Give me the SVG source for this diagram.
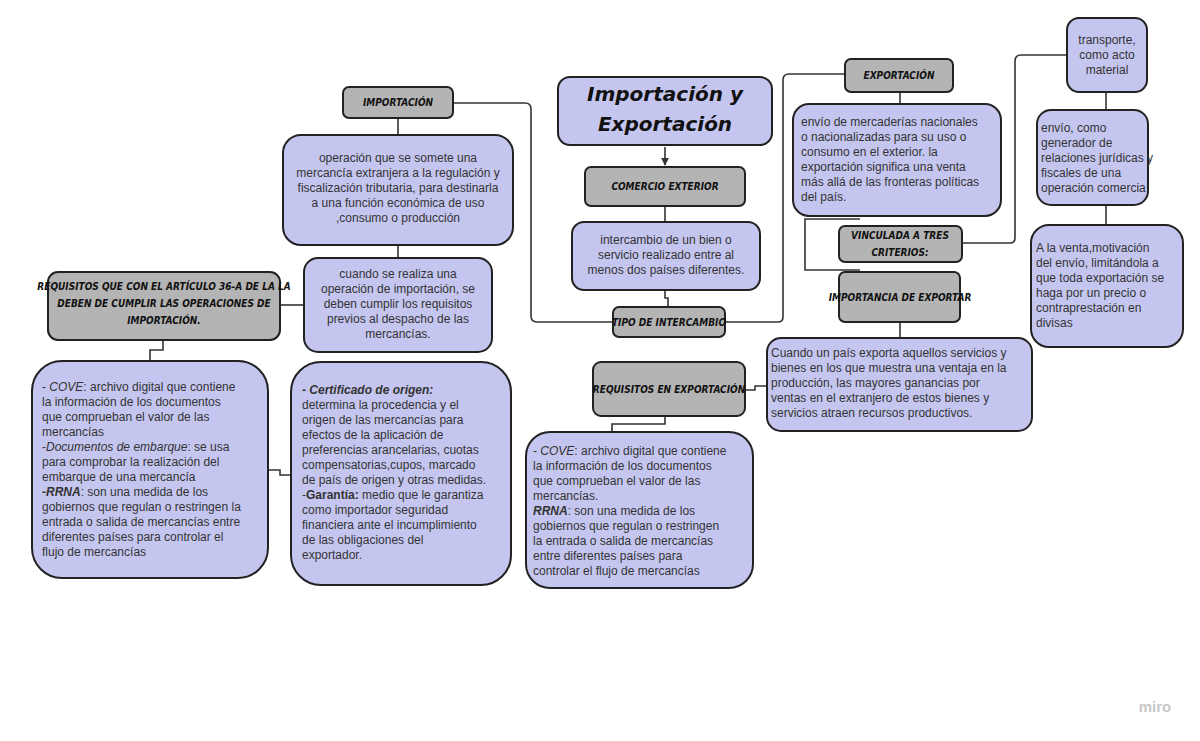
<svg xmlns="http://www.w3.org/2000/svg" width="1200" height="741" viewBox="0 0 1200 741">
<style>
.b{fill:#c5c6f0;stroke:#222;stroke-width:2}
.g{fill:#b4b4b4;stroke:#222;stroke-width:2}
.h{font-family:"Liberation Sans Narrow","DejaVu Sans Condensed","Liberation Sans",sans-serif;font-weight:bold;font-style:italic;font-size:10px;fill:#111;text-anchor:middle}
.t{font-family:"Liberation Sans",Arial,sans-serif;font-size:12px;fill:#333}
.c{text-anchor:middle}
.l{fill:none;stroke:#333;stroke-width:1.6}
</style>
<defs><marker id="a" viewBox="0 0 10 10" refX="9" refY="5" markerWidth="5" markerHeight="5" orient="auto"><path d="M0,0L10,5L0,10z" fill="#333"/></marker></defs>
<rect width="1200" height="741" fill="#fff"/>
<g id="connectors">
<path class="l" d="M665,147V165" marker-end="url(#a)"/>
<path class="l" d="M665,206V222"/>
<path class="l" d="M665,290V298H668V308"/>
<path class="l" d="M613,322H537Q531,322 531,316V109Q531,103 525,103H453"/>
<path class="l" d="M725,322H778Q783,322 783,317V80Q783,74 789,74H845"/>
<path class="l" d="M398,118V135"/>
<path class="l" d="M398,245V258"/>
<path class="l" d="M280,305H304"/>
<path class="l" d="M163,340V350H150V361"/>
<path class="l" d="M268,470H280V475H291"/>
<path class="l" d="M900,92V104"/>
<path class="l" d="M860,219H805V270H860"/>
<path class="l" d="M962,243H1010Q1015,243 1015,238V61Q1015,55 1021,55H1067"/>
<path class="l" d="M1106,92V110"/>
<path class="l" d="M1106,205V225"/>
<path class="l" d="M900,322V338"/>
<path class="l" d="M745,390H755V386H767"/>
<path class="l" d="M665,416V424H612V432"/>
</g>
<g id="title"><rect class="b" x="558" y="77" width="214" height="68" rx="12"/>
<text x="665" y="101" class="h" style="font-family:'DejaVu Sans','Liberation Sans',sans-serif;font-size:20px">Importación y</text>
<text x="665" y="131" class="h" style="font-family:'DejaVu Sans','Liberation Sans',sans-serif;font-size:20px">Exportación</text></g>
<g id="comercio"><rect class="g" x="585" y="167" width="160" height="39" rx="6"/><text x="665" y="190" class="h">COMERCIO EXTERIOR</text></g>
<g id="intercambio"><rect class="b" x="572" y="222" width="188" height="68" rx="12"/>
<text class="t c" x="666" y="244">intercambio de un bien o</text><text class="t c" x="666" y="259">servicio realizado entre al</text><text class="t c" x="666" y="274">menos dos países diferentes.</text></g>
<g id="tipo"><rect class="g" x="613" y="307" width="112" height="30" rx="6"/><text x="669" y="326" class="h">TIPO DE INTERCAMBIO</text></g>
<g id="importacion"><rect class="g" x="343" y="87" width="110" height="31" rx="6"/><text x="398" y="106" class="h">IMPORTACIÓN</text></g>
<g id="operacion"><rect class="b" x="283" y="135" width="230" height="110" rx="18"/>
<text class="t c" x="398" y="162">operación que se somete una</text><text class="t c" x="398" y="177">mercancía extranjera a la regulación y</text><text class="t c" x="398" y="192">fiscalización tributaria, para destinarla</text><text class="t c" x="398" y="207">a una función económica de uso</text><text class="t c" x="398" y="222">,consumo o producción</text></g>
<g id="cuando"><rect class="b" x="304" y="258" width="188" height="94" rx="14"/>
<text class="t c" x="398" y="278">cuando se realiza una</text><text class="t c" x="398" y="293">operación de importación, se</text><text class="t c" x="398" y="308">deben cumplir los requisitos</text><text class="t c" x="398" y="323">previos al despacho de las</text><text class="t c" x="398" y="338">mercancías.</text></g>
<g id="requisitos-imp"><rect class="g" x="48" y="272" width="232" height="68" rx="10"/>
<text x="164" y="290" class="h">REQUISITOS QUE CON EL ARTÍCULO 36-A DE LA LA</text><text x="164" y="307" class="h">DEBEN DE CUMPLIR LAS OPERACIONES DE</text><text x="164" y="324" class="h">IMPORTACIÓN.</text></g>
<g id="cove-imp"><rect class="b" x="32" y="361" width="236" height="217" rx="30"/>
<text class="t" x="42" y="391">- <tspan font-style="italic">COVE</tspan>: archivo digital que contiene</text>
<text class="t" x="42" y="406">la información de los documentos</text>
<text class="t" x="42" y="421">que comprueban el valor de las</text>
<text class="t" x="42" y="436">mercancías</text>
<text class="t" x="42" y="451">-<tspan font-style="italic">Documentos de embarque</tspan>: se usa</text>
<text class="t" x="42" y="466">para comprobar la realización del</text>
<text class="t" x="42" y="481">embarque de una mercancía</text>
<text class="t" x="42" y="496"><tspan font-weight="bold" font-style="italic">-RRNA</tspan>: son una medida de los</text>
<text class="t" x="42" y="511">gobiernos que regulan o restringen la</text>
<text class="t" x="42" y="526">entrada o salida de mercancías entre</text>
<text class="t" x="42" y="541">diferentes países para controlar el</text>
<text class="t" x="42" y="556">flujo de mercancías</text></g>
<g id="certificado"><rect class="b" x="291" y="362" width="220" height="223" rx="30"/>
<text class="t" x="302" y="394" font-weight="bold" font-style="italic">- Certificado de origen:</text>
<text class="t" x="302" y="409">determina la procedencia y el</text>
<text class="t" x="302" y="424">origen de las mercancías para</text>
<text class="t" x="302" y="439">efectos de la aplicación de</text>
<text class="t" x="302" y="454">preferencias arancelarias, cuotas</text>
<text class="t" x="302" y="469">compensatorias,cupos, marcado</text>
<text class="t" x="302" y="484">de país de origen y otras medidas.</text>
<text class="t" x="302" y="499">-<tspan font-weight="bold">Garantía:</tspan> medio que le garantiza</text>
<text class="t" x="302" y="514">como importador seguridad</text>
<text class="t" x="302" y="529">financiera ante el incumplimiento</text>
<text class="t" x="302" y="544">de las obligaciones del</text>
<text class="t" x="302" y="559">exportador.</text></g>
<g id="exportacion"><rect class="g" x="845" y="59" width="108" height="33" rx="6"/><text x="899" y="79" class="h">EXPORTACIÓN</text></g>
<g id="envio-merc"><rect class="b" x="793" y="104" width="208" height="112" rx="16"/>
<text class="t" x="801" y="126">envío de mercaderías nacionales</text><text class="t" x="801" y="141">o nacionalizadas para su uso o</text><text class="t" x="801" y="156">consumo en el exterior. la</text><text class="t" x="801" y="171">exportación significa una venta</text><text class="t" x="801" y="186">más allá de las fronteras políticas</text><text class="t" x="801" y="201">del país.</text></g>
<g id="vinculada"><rect class="g" x="839" y="226" width="123" height="36" rx="6"/><text x="900" y="239" class="h">VINCULADA A TRES</text><text x="900" y="256" class="h">CRITERIOS:</text></g>
<g id="importancia"><rect class="g" x="839" y="272" width="121" height="50" rx="6"/><text x="900" y="301" class="h">IMPORTANCIA DE EXPORTAR</text></g>
<g id="cuando-pais"><rect class="b" x="767" y="338" width="265" height="93" rx="14"/>
<text class="t" x="771" y="357">Cuando un país exporta aquellos servicios y</text><text class="t" x="771" y="372">bienes en los que muestra una ventaja en la</text><text class="t" x="771" y="387">producción, las mayores ganancias por</text><text class="t" x="771" y="402">ventas en el extranjero de estos bienes y</text><text class="t" x="771" y="417">servicios atraen recursos productivos.</text></g>
<g id="transporte"><rect class="b" x="1067" y="18" width="80" height="74" rx="12"/>
<text class="t c" x="1107" y="44">transporte,</text><text class="t c" x="1107" y="59">como acto</text><text class="t c" x="1107" y="74">material</text></g>
<g id="envio-como"><rect class="b" x="1037" y="110" width="111" height="95" rx="14"/>
<text class="t" x="1041" y="132">envío, como</text><text class="t" x="1041" y="147">generador de</text><text class="t" x="1041" y="162">relaciones jurídicas y</text><text class="t" x="1041" y="177">fiscales de una</text><text class="t" x="1041" y="192">operación comercia</text></g>
<g id="venta"><rect class="b" x="1031" y="225" width="152" height="122" rx="18"/>
<text class="t" x="1036" y="252">A la venta,motivación</text><text class="t" x="1036" y="267">del envío, limitándola a</text><text class="t" x="1036" y="282">que toda exportación se</text><text class="t" x="1036" y="297">haga por un precio o</text><text class="t" x="1036" y="312">contraprestación en</text><text class="t" x="1036" y="327">divisas</text></g>
<g id="requisitos-exp"><rect class="g" x="593" y="362" width="152" height="54" rx="8"/><text x="669" y="393" class="h">REQUISITOS EN EXPORTACIÓN</text></g>
<g id="cove-exp"><rect class="b" x="526" y="432" width="227" height="156" rx="24"/>
<text class="t" x="533" y="455">- <tspan font-style="italic">COVE</tspan>: archivo digital que contiene</text>
<text class="t" x="533" y="470">la información de los documentos</text>
<text class="t" x="533" y="485">que comprueban el valor de las</text>
<text class="t" x="533" y="500">mercancías.</text>
<text class="t" x="533" y="515" font-weight="bold" font-style="italic">RRNA<tspan font-weight="normal" font-style="normal">: son una medida de los</tspan></text>
<text class="t" x="533" y="530">gobiernos que regulan o restringen</text>
<text class="t" x="533" y="545">la entrada o salida de mercancías</text>
<text class="t" x="533" y="560">entre diferentes países para</text>
<text class="t" x="533" y="575">controlar el flujo de mercancías</text></g>
<text x="1155" y="712" font-family="'Liberation Sans',sans-serif" font-size="15" font-weight="bold" fill="#c8c8c8" text-anchor="middle">miro</text>
</svg>
